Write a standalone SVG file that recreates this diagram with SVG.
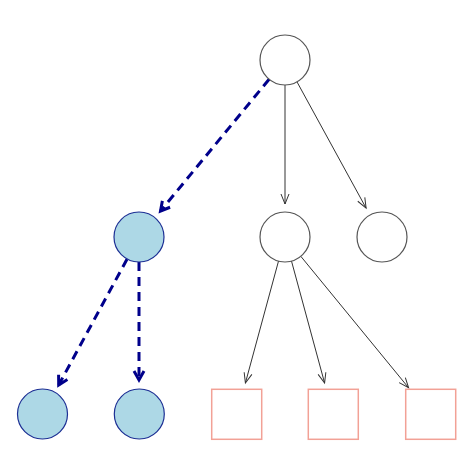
<svg xmlns="http://www.w3.org/2000/svg" width="474" height="474" viewBox="0 0 474 474">
<style>
.n{fill:#fff;stroke:#555;stroke-width:1.2}
.b{fill:#ADD8E6;stroke:#1c2f94;stroke-width:1.2}
.s{fill:#fff;stroke:#f2a196;stroke-width:1.5}
.e{stroke:#333;stroke-width:1;fill:none;marker-end:url(#ah)}
.d{stroke:#00008B;stroke-width:3;stroke-dasharray:9 6;fill:none;marker-end:url(#dh)}
</style>
<defs>
<marker id="ah" markerUnits="userSpaceOnUse" markerWidth="20" markerHeight="20" refX="0" refY="0" orient="auto" overflow="visible">
<path d="M-10,-4 L0,0 L-10,4" fill="none" stroke="#333" stroke-width="1"/>
</marker>
<marker id="dh" markerUnits="userSpaceOnUse" markerWidth="20" markerHeight="20" refX="0" refY="0" orient="auto" overflow="visible">
<path d="M-9,-5 L0,0 L-9,5" fill="none" stroke="#00008B" stroke-width="3"/>
</marker>
</defs>
<rect width="474" height="474" fill="#fff"/>
<g id="edges">
<line class="d" x1="269.1" y1="79.3" x2="160.5" y2="211"/>
<line class="e" x1="285" y1="85" x2="285" y2="204"/>
<line class="e" x1="297" y1="81.9" x2="366.1" y2="208.1"/>
<line class="e" x1="278.5" y1="261.1" x2="245.4" y2="383"/>
<line class="e" x1="291.5" y1="261.1" x2="324.6" y2="383"/>
<line class="e" x1="300.8" y1="256.3" x2="408.6" y2="387.8"/>
<line class="d" x1="127.1" y1="259" x2="58.7" y2="385"/>
<line class="d" x1="139" y1="262" x2="139" y2="380"/>
</g>
<g id="n0"><circle class="n" cx="285" cy="60" r="25"/></g>
<g id="n1"><circle class="b" cx="139" cy="237" r="25"/></g>
<g id="n2"><circle class="n" cx="285" cy="237" r="25"/></g>
<g id="n3"><circle class="n" cx="382" cy="237" r="25"/></g>
<g id="n4"><circle class="b" cx="42.5" cy="414" r="25"/></g>
<g id="n5"><circle class="b" cx="139.3" cy="414" r="25"/></g>
<g id="n6"><rect class="s" x="211.7" y="389.3" width="50" height="50"/></g>
<g id="n7"><rect class="s" x="308.3" y="389.3" width="50" height="50"/></g>
<g id="n8"><rect class="s" x="405.7" y="389.3" width="50" height="50"/></g>
</svg>
